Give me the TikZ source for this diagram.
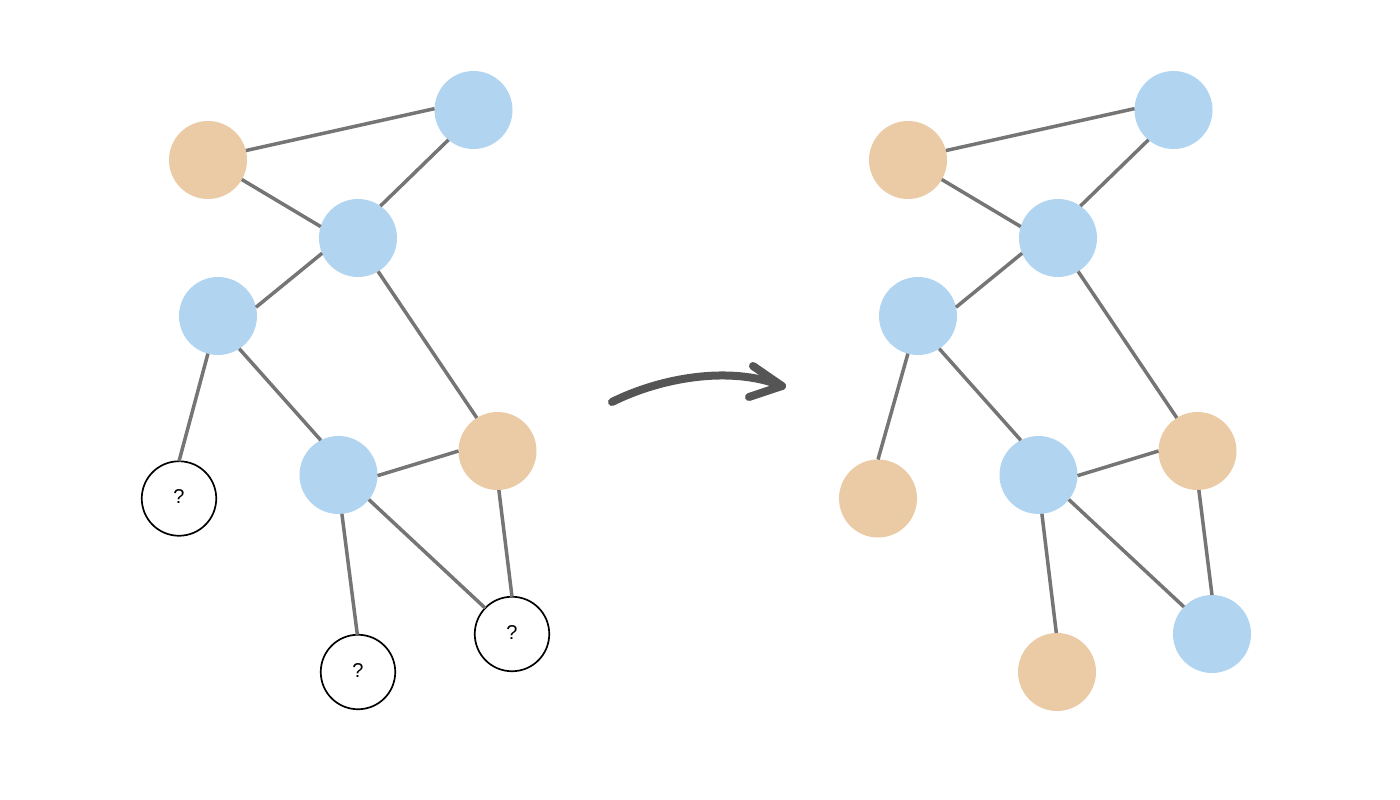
\documentclass[tikz,border=0pt]{standalone}
\usepackage{fontspec}
\setmainfont{Liberation Sans}
\definecolor{nblue}{HTML}{B1D4F0}
\definecolor{norange}{HTML}{EACBA5}
\definecolor{edgegrey}{HTML}{757575}
\definecolor{arrowgrey}{HTML}{555555}
\tikzset{
  bnode/.style={circle,fill=nblue,draw=none,minimum size=78pt,inner sep=0pt,outer sep=0pt},
  onode/.style={circle,fill=norange,draw=none,minimum size=78pt,inner sep=0pt,outer sep=0pt},
  qnode/.style={circle,fill=white,draw=black,line width=1.7pt,minimum size=74.5pt,inner sep=0pt,outer sep=0pt,font=\fontsize{20}{24}\selectfont},
  edge/.style={draw=edgegrey,line width=3.5pt},
  bigarrow/.style={draw=arrowgrey,line width=8pt,line cap=round,line join=round}
}
\newcommand{\graphedges}[1]{%
  \draw[edge] (#1A.14) -- (#1B.178);
  \draw[edge] (#1A.-30) -- (#1C.163);
  \draw[edge] (#1B.230) -- (#1C.55);
  \draw[edge] (#1C.203) -- (#1D.13);
  \draw[edge] (#1C.-59) -- (#1F.122);
  \draw[edge] (#1D.255) -- (#1Q1.90);
  \draw[edge] (#1D.-57) -- (#1E.117);
  \draw[edge] (#1E.-1) -- (#1F.180);
  \draw[edge] (#1E.-85) -- (#1Q2.91);
  \draw[edge] (#1E.-39) -- (#1Q3.136);
  \draw[edge] (#1F.-88) -- (#1Q3.90);
}
\newcommand{\qmark}{\raisebox{3pt}{?}}
\begin{document}
\begin{tikzpicture}[x=1pt,y=-1pt]
\useasboundingbox (0,0) rectangle (1400,800);
% left graph
\node[onode] (lA) at (208,160) {};
\node[bnode] (lB) at (473.5,110) {};
\node[bnode] (lC) at (358,238) {};
\node[bnode] (lD) at (218,316) {};
\node[bnode] (lE) at (338.5,475) {};
\node[onode] (lF) at (497.5,451) {};
\node[qnode] (lQ1) at (179,498.5) {\qmark};
\node[qnode] (lQ2) at (358,672) {\qmark};
\node[qnode] (lQ3) at (512,634) {\qmark};
\graphedges{l}
% right graph
\node[onode] (rA) at (908,160) {};
\node[bnode] (rB) at (1173.5,110) {};
\node[bnode] (rC) at (1058,238) {};
\node[bnode] (rD) at (918,316) {};
\node[bnode] (rE) at (1038.5,475) {};
\node[onode] (rF) at (1197.5,451) {};
\node[onode] (rQ1) at (878,498.5) {};
\node[onode] (rQ2) at (1057,672) {};
\node[bnode] (rQ3) at (1212,634) {};
\graphedges{r}
% arrow
\coordinate (as) at (612,402);
\coordinate (ae) at (782,386);
\draw[bigarrow] (as) .. controls (660,378) and (730,365) .. (ae);
\draw[bigarrow] (753,366) -- (ae) -- (749,397);
\end{tikzpicture}
\end{document}
